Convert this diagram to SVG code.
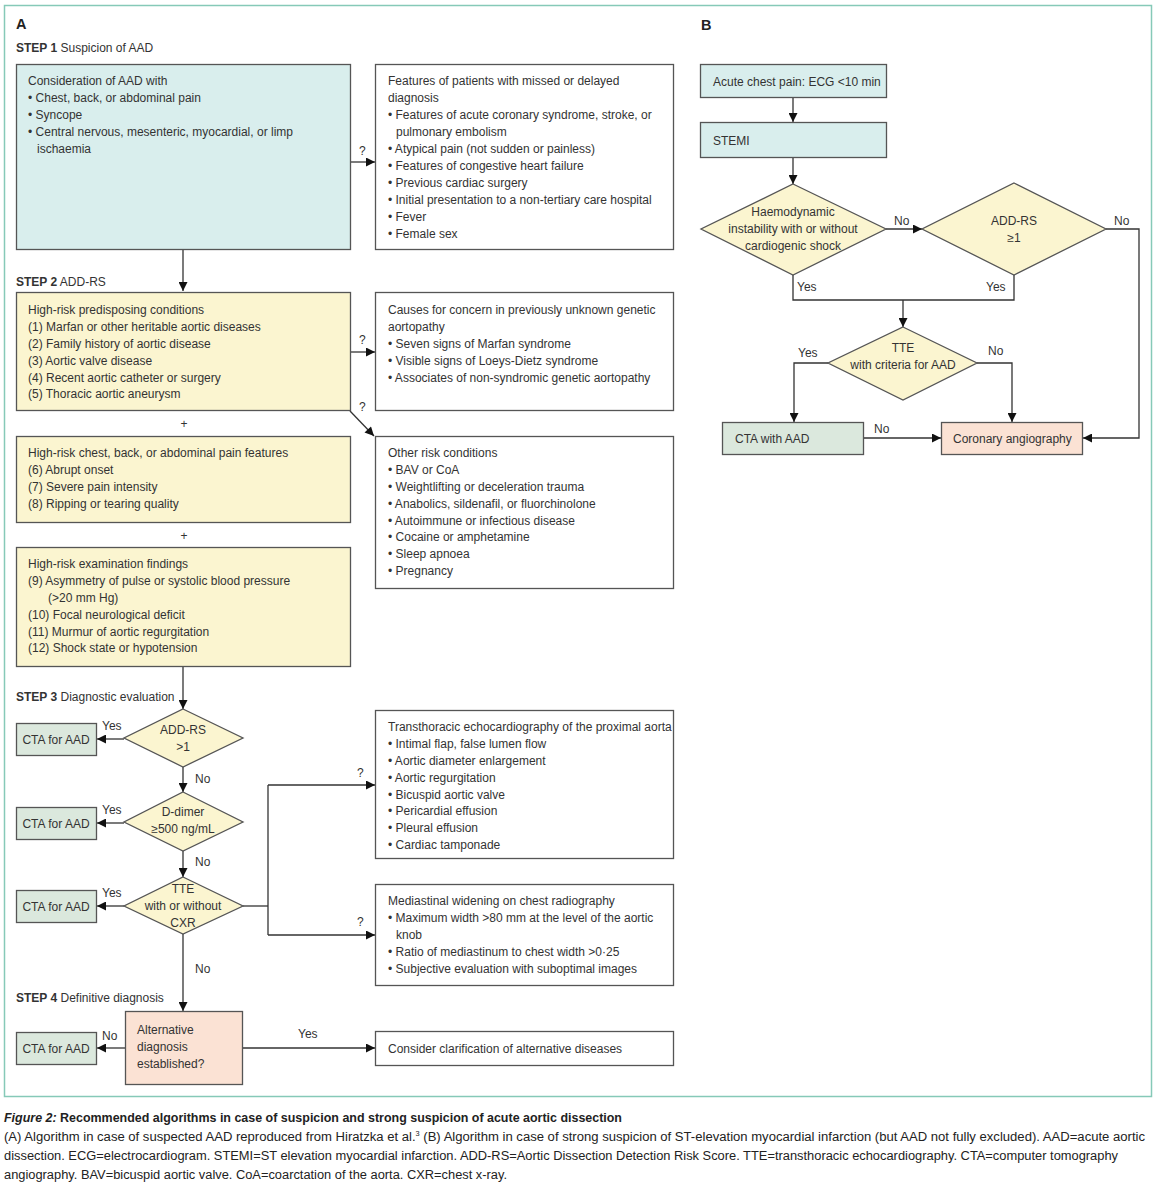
<svg xmlns="http://www.w3.org/2000/svg" width="1158" height="1200" viewBox="0 0 1158 1200">
<style>
text{font-family:"Liberation Sans",Arial,sans-serif;font-size:12px;fill:#333}
.h{font-size:14.5px;font-weight:bold;fill:#222}
.b{font-weight:bold}
.box{stroke:#555;stroke-width:1.3}
.w{fill:#fff}
.t{fill:#d9eeed}
.y{fill:#fbf5d0}
.g{fill:#dbe8dd}
.p{fill:#fbe2d4}
.c{text-anchor:middle}
.ln{fill:none;stroke:#333;stroke-width:1.3}
.cap{font-size:12.5px;fill:#222}
</style>
<defs>
<marker id="ar" viewBox="0 0 10 10" refX="10" refY="5" markerWidth="10" markerHeight="9" markerUnits="userSpaceOnUse" orient="auto">
<path d="M0,0 L10,5 L0,10 z" fill="#111"/>
</marker>
</defs>
<rect x="0" y="0" width="1158" height="1200" fill="#fff"/>
<rect x="4.5" y="5.5" width="1147" height="1091" fill="none" stroke="#86c9b8" stroke-width="1.5"/>

<text class="h" x="16" y="29">A</text>
<text class="h" x="701" y="30">B</text>
<text x="16" y="52"><tspan class="b">STEP 1</tspan> Suspicion of AAD</text>
<text x="16" y="286"><tspan class="b">STEP 2</tspan> ADD-RS</text>
<text x="16" y="701"><tspan class="b">STEP 3</tspan> Diagnostic evaluation</text>
<text x="16" y="1002"><tspan class="b">STEP 4</tspan> Definitive diagnosis</text>
<text class="c" x="184" y="428">+</text>
<text class="c" x="184" y="540">+</text>

<g id="connectors">
<path class="ln" d="M351,162 H375" marker-end="url(#ar)"/>
<path class="ln" d="M183,250 V291" marker-end="url(#ar)"/>
<path class="ln" d="M351,352 H375" marker-end="url(#ar)"/>
<path class="ln" d="M350,411 L374,436" marker-end="url(#ar)"/>
<path class="ln" d="M183,667 V709" marker-end="url(#ar)"/>
<path class="ln" d="M124,739 H97" marker-end="url(#ar)"/>
<path class="ln" d="M183,767 V792" marker-end="url(#ar)"/>
<path class="ln" d="M124,823 H97" marker-end="url(#ar)"/>
<path class="ln" d="M183,851 V877" marker-end="url(#ar)"/>
<path class="ln" d="M124,906 H97" marker-end="url(#ar)"/>
<path class="ln" d="M243,906 H268"/>
<path class="ln" d="M268,785 V935"/>
<path class="ln" d="M268,785 H375" marker-end="url(#ar)"/>
<path class="ln" d="M268,935 H375" marker-end="url(#ar)"/>
<path class="ln" d="M183,934 V1011" marker-end="url(#ar)"/>
<path class="ln" d="M125,1048 H97" marker-end="url(#ar)"/>
<path class="ln" d="M242,1048 H375" marker-end="url(#ar)"/>
<path class="ln" d="M793,97 V122" marker-end="url(#ar)"/>
<path class="ln" d="M793,157 V184" marker-end="url(#ar)"/>
<path class="ln" d="M886,229 H922" marker-end="url(#ar)"/>
<path class="ln" d="M1106,229 H1139 V438 H1083" marker-end="url(#ar)"/>
<path class="ln" d="M793,275 V300 H1014 V275"/>
<path class="ln" d="M903,300 V327" marker-end="url(#ar)"/>
<path class="ln" d="M828,363 H794 V422" marker-end="url(#ar)"/>
<path class="ln" d="M977,363 H1012 V422" marker-end="url(#ar)"/>
<path class="ln" d="M864,438 H941" marker-end="url(#ar)"/>
<text x="359" y="155">?</text>
<text x="359" y="344">?</text>
<text x="359" y="411">?</text>
<text x="357" y="777">?</text>
<text x="357" y="926">?</text>
<text x="102" y="730">Yes</text>
<text x="195" y="783">No</text>
<text x="102" y="814">Yes</text>
<text x="195" y="866">No</text>
<text x="102" y="897">Yes</text>
<text x="195" y="973">No</text>
<text x="102" y="1040">No</text>
<text x="298" y="1038">Yes</text>
<text x="894" y="225">No</text>
<text x="1114" y="225">No</text>
<text x="797" y="291">Yes</text>
<text x="986" y="291">Yes</text>
<text x="798" y="357">Yes</text>
<text x="988" y="355">No</text>
<text x="874" y="433">No</text>
</g>

<g id="step1">
<rect class="box t" x="16.5" y="64.5" width="334" height="185"/>
<text x="28" y="85">Consideration of AAD with</text>
<text x="28" y="102">• Chest, back, or abdominal pain</text>
<text x="28" y="119">• Syncope</text>
<text x="28" y="136">• Central nervous, mesenteric, myocardial, or limp</text>
<text x="37" y="153">ischaemia</text>
</g>
<g id="missed">
<rect class="box w" x="375.5" y="64.5" width="298" height="185"/>
<text x="388" y="85">Features of patients with missed or delayed</text>
<text x="388" y="102">diagnosis</text>
<text x="388" y="119">• Features of acute coronary syndrome, stroke, or</text>
<text x="396" y="136">pulmonary embolism</text>
<text x="388" y="153">• Atypical pain (not sudden or painless)</text>
<text x="388" y="170">• Features of congestive heart failure</text>
<text x="388" y="187">• Previous cardiac surgery</text>
<text x="388" y="204">• Initial presentation to a non-tertiary care hospital</text>
<text x="388" y="221">• Fever</text>
<text x="388" y="238">• Female sex</text>
</g>
<g id="predisposing">
<rect class="box y" x="16.5" y="292.5" width="334" height="118"/>
<text x="28" y="314">High-risk predisposing conditions</text>
<text x="28" y="331">(1) Marfan or other heritable aortic diseases</text>
<text x="28" y="348">(2) Family history of aortic disease</text>
<text x="28" y="365">(3) Aortic valve disease</text>
<text x="28" y="382">(4) Recent aortic catheter or surgery</text>
<text x="28" y="398">(5) Thoracic aortic aneurysm</text>
</g>
<g id="genetic">
<rect class="box w" x="375.5" y="292.5" width="298" height="118"/>
<text x="388" y="314">Causes for concern in previously unknown genetic</text>
<text x="388" y="331">aortopathy</text>
<text x="388" y="348">• Seven signs of Marfan syndrome</text>
<text x="388" y="365">• Visible signs of Loeys-Dietz syndrome</text>
<text x="388" y="382">• Associates of non-syndromic genetic aortopathy</text>
</g>
<g id="pain">
<rect class="box y" x="16.5" y="436.5" width="334" height="86"/>
<text x="28" y="457">High-risk chest, back, or abdominal pain features</text>
<text x="28" y="474">(6) Abrupt onset</text>
<text x="28" y="491">(7) Severe pain intensity</text>
<text x="28" y="508">(8) Ripping or tearing quality</text>
</g>
<g id="other">
<rect class="box w" x="375.5" y="436.5" width="298" height="152"/>
<text x="388" y="457">Other risk conditions</text>
<text x="388" y="474">• BAV or CoA</text>
<text x="388" y="491">• Weightlifting or deceleration trauma</text>
<text x="388" y="508">• Anabolics, sildenafil, or fluorchinolone</text>
<text x="388" y="525">• Autoimmune or infectious disease</text>
<text x="388" y="541">• Cocaine or amphetamine</text>
<text x="388" y="558">• Sleep apnoea</text>
<text x="388" y="575">• Pregnancy</text>
</g>
<g id="exam">
<rect class="box y" x="16.5" y="547.5" width="334" height="119"/>
<text x="28" y="568">High-risk examination findings</text>
<text x="28" y="585">(9) Asymmetry of pulse or systolic blood pressure</text>
<text x="48" y="602">(&gt;20 mm Hg)</text>
<text x="28" y="619">(10) Focal neurological deficit</text>
<text x="28" y="636">(11) Murmur of aortic regurgitation</text>
<text x="28" y="652">(12) Shock state or hypotension</text>
</g>

<g id="d1">
<polygon class="box y" points="183,709 243,738 183,767 124,738"/>
<text class="c" x="183" y="734">ADD-RS</text>
<text class="c" x="183" y="751">&gt;1</text>
</g>
<g id="cta1">
<rect class="box g" x="16.5" y="723.5" width="80" height="32"/>
<text class="c" x="56" y="744">CTA for AAD</text>
</g>
<g id="d2">
<polygon class="box y" points="183,792 243,822 183,851 124,822"/>
<text class="c" x="183" y="816">D-dimer</text>
<text class="c" x="183" y="833">≥500 ng/mL</text>
</g>
<g id="cta2">
<rect class="box g" x="16.5" y="807.5" width="80" height="32"/>
<text class="c" x="56" y="828">CTA for AAD</text>
</g>
<g id="d3">
<polygon class="box y" points="183,877 243,906 183,934 124,906"/>
<text class="c" x="183" y="893">TTE</text>
<text class="c" x="183" y="910">with or without</text>
<text class="c" x="183" y="927">CXR</text>
</g>
<g id="cta3">
<rect class="box g" x="16.5" y="890.5" width="80" height="32"/>
<text class="c" x="56" y="911">CTA for AAD</text>
</g>
<g id="tte">
<rect class="box w" x="375.5" y="710.5" width="298" height="148"/>
<text x="388" y="731">Transthoracic echocardiography of the proximal aorta</text>
<text x="388" y="748">• Intimal flap, false lumen flow</text>
<text x="388" y="765">• Aortic diameter enlargement</text>
<text x="388" y="782">• Aortic regurgitation</text>
<text x="388" y="799">• Bicuspid aortic valve</text>
<text x="388" y="815">• Pericardial effusion</text>
<text x="388" y="832">• Pleural effusion</text>
<text x="388" y="849">• Cardiac tamponade</text>
</g>
<g id="cxr">
<rect class="box w" x="375.5" y="884.5" width="298" height="101"/>
<text x="388" y="905">Mediastinal widening on chest radiography</text>
<text x="388" y="922">• Maximum width &gt;80 mm at the level of the aortic</text>
<text x="396" y="939">knob</text>
<text x="388" y="956">• Ratio of mediastinum to chest width &gt;0·25</text>
<text x="388" y="973">• Subjective evaluation with suboptimal images</text>
</g>
<g id="alt">
<rect class="box p" x="125.5" y="1011.5" width="117" height="73"/>
<text x="137" y="1034">Alternative</text>
<text x="137" y="1051">diagnosis</text>
<text x="137" y="1068">established?</text>
</g>
<g id="cta4">
<rect class="box g" x="16.5" y="1032.5" width="80" height="32"/>
<text class="c" x="56" y="1053">CTA for AAD</text>
</g>
<g id="clarify">
<rect class="box w" x="375.5" y="1031.5" width="298" height="34"/>
<text x="388" y="1053">Consider clarification of alternative diseases</text>
</g>

<g id="acute">
<rect class="box t" x="700.5" y="64.5" width="186" height="33"/>
<text x="713" y="86">Acute chest pain: ECG &lt;10 min</text>
</g>
<g id="stemi">
<rect class="box t" x="700.5" y="122.5" width="186" height="35"/>
<text x="713" y="145">STEMI</text>
</g>
<g id="haemo">
<polygon class="box y" points="793,184 886,229 793,275 701,229"/>
<text class="c" x="793" y="216">Haemodynamic</text>
<text class="c" x="793" y="233">instability with or without</text>
<text class="c" x="793" y="250">cardiogenic shock</text>
</g>
<g id="addrs">
<polygon class="box y" points="1014,183 1106,229 1014,275 922,229"/>
<text class="c" x="1014" y="225">ADD-RS</text>
<text class="c" x="1014" y="242">≥1</text>
</g>
<g id="tteb">
<polygon class="box y" points="903,327 977,363 903,400 828,363"/>
<text class="c" x="903" y="352">TTE</text>
<text class="c" x="903" y="369">with criteria for AAD</text>
</g>
<g id="ctab">
<rect class="box g" x="722.5" y="422.5" width="141" height="32"/>
<text x="735" y="443">CTA with AAD</text>
</g>
<g id="coronary">
<rect class="box p" x="941.5" y="422.5" width="141" height="32"/>
<text x="953" y="443">Coronary angiography</text>
</g>

<g id="caption">
<text class="cap b" x="4" y="1122" textLength="618" lengthAdjust="spacingAndGlyphs"><tspan font-style="italic">Figure 2:</tspan> Recommended algorithms in case of suspicion and strong suspicion of acute aortic dissection</text>
<text class="cap" x="4" y="1141" textLength="1141" lengthAdjust="spacingAndGlyphs">(A) Algorithm in case of suspected AAD reproduced from Hiratzka et al.<tspan font-size="7" dy="-5">3</tspan><tspan dy="5"> (B) Algorithm in case of strong suspicion of ST-elevation myocardial infarction (but AAD not fully excluded). AAD=acute aortic</tspan></text>
<text class="cap" x="4" y="1160" textLength="1114" lengthAdjust="spacingAndGlyphs">dissection. ECG=electrocardiogram. STEMI=ST elevation myocardial infarction. ADD-RS=Aortic Dissection Detection Risk Score. TTE=transthoracic echocardiography. CTA=computer tomography</text>
<text class="cap" x="4" y="1179" textLength="503" lengthAdjust="spacingAndGlyphs">angiography. BAV=bicuspid aortic valve. CoA=coarctation of the aorta. CXR=chest x-ray.</text>
</g>
</svg>
